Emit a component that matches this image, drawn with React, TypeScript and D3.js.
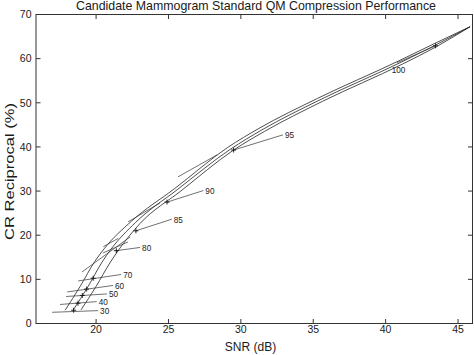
import React from 'react';
import * as d3 from 'd3';

const W = 474;
const H = 355;

const xTicks = [20, 25, 30, 35, 40, 45];
const yTicks = [0, 10, 20, 30, 40, 50, 60, 70];

// Three rate–distortion curves (SNR dB, CR reciprocal %)
const curveL: [number, number][] = [
  [17.86, 3.0], [18.9, 8.4], [19.9, 14.0], [20.55, 16.9], [22.45, 23.2], [25.4, 30.5],
  [29.1, 39.9], [31.25, 44.2], [35.3, 51.0], [40.85, 59.4], [43.3, 63.3], [45.83, 67.23],
];
const curveM: [number, number][] = [
  [18.41, 3.0], [19.45, 8.4], [20.41, 13.9], [21.0, 16.7], [22.73, 22.9], [25.6, 30.3],
  [29.32, 39.57], [31.46, 43.88], [35.47, 50.68], [40.99, 59.07], [43.4, 63.0], [45.83, 67.23],
];
const curveR: [number, number][] = [
  [18.96, 3.1], [20.0, 8.4], [20.95, 13.7], [21.5, 16.4], [23.05, 22.7], [25.85, 30.0],
  [29.5, 39.3], [31.65, 43.55], [35.65, 50.35], [41.15, 58.75], [43.5, 62.7], [45.83, 67.23],
];

// Quality levels and their marked points
const qualityLabels = ['30', '40', '50', '60', '70', '80', '85', '90', '95', '100'];
const markerSNR = [18.45, 18.75, 19.05, 19.35, 19.8, 21.4, 22.75, 24.9, 29.5, 43.45];
const markerCR = [3.0, 4.6, 6.35, 7.8, 10.25, 16.5, 21.0, 27.5, 39.3, 62.9];

// Leader / iso-quality lines: start point -> label anchor
const leaderFromSNR = [16.96, 17.51, 17.93, 18.0, 18.76, 21.4, 22.75, 24.9, 29.5, 43.45];
const leaderFromCR = [2.54, 4.31, 6.12, 7.14, 9.64, 16.5, 21.0, 27.5, 39.3, 62.9];
const labelSNR = [20.14, 20.05, 20.75, 21.17, 21.73, 23.04, 25.23, 27.41, 32.91, 40.79];
const labelCR = [2.92, 4.96, 6.7, 8.62, 11.11, 17.23, 23.63, 30.11, 42.74, 59.07];

// Extra short crossing segments protruding from the bundle
const segFromSNR = [19.03, 20.48, 20.5, 22.21, 25.66];
const segFromCR = [11.68, 15.99, 17.4, 23.02, 33.22];
const segToSNR = [22.35, 22.21, 21.54, 24.42, 28.36];
const segToCR = [19.61, 18.48, 19.3, 27.32, 38.21];

const FONT = "'Liberation Sans', Arial, Helvetica, sans-serif";
const INK = '#1a1a1a';

export default function App() {
  const x = d3.scaleLinear().domain([15.85, 46]).range([36, 472.5]);
  const y = d3.scaleLinear().domain([0, 70]).range([323.5, 14.5]);
  const line = d3
    .line<[number, number]>()
    .x((d) => x(d[0]))
    .y((d) => y(d[1]))
    .curve(d3.curveMonotoneX);

  const x0 = x.range()[0];
  const x1 = x.range()[1];
  const y0 = y.range()[0];
  const y1 = y.range()[1];
  const tick = 4.5;

  return (
    <svg
      width={W}
      height={H}
      viewBox={`0 0 ${W} ${H}`}
      style={{ position: 'absolute', left: 0, top: 0, background: '#fff' }}
      fontFamily={FONT}
    >
      <rect x={0} y={0} width={W} height={H} fill="#fff" />
      {/* title */}
      <text
        x={256}
        y={9.5}
        fontSize={12.4}
        textAnchor="middle"
        fill={INK}
        textLength={360}
        lengthAdjust="spacingAndGlyphs"
      >
        Candidate Mammogram Standard QM Compression Performance
      </text>

      {/* frame */}
      <rect x={x0} y={y1} width={x1 - x0} height={y0 - y1} fill="none" stroke="#333" strokeWidth={1} />

      {/* x ticks */}
      {xTicks.map((t) => (
        <g key={'xt' + t}>
          <line x1={x(t)} x2={x(t)} y1={y0} y2={y0 - tick} stroke="#333" strokeWidth={1} />
          <line x1={x(t)} x2={x(t)} y1={y1} y2={y1 + tick} stroke="#333" strokeWidth={1} />
          <text x={x(t)} y={333} fontSize={10.5} textAnchor="middle" fill={INK}>
            {t}
          </text>
        </g>
      ))}
      {/* y ticks */}
      {yTicks.map((t) => (
        <g key={'yt' + t}>
          <line x1={x0} x2={x0 + tick} y1={y(t)} y2={y(t)} stroke="#333" strokeWidth={1} />
          <line x1={x1} x2={x1 - tick} y1={y(t)} y2={y(t)} stroke="#333" strokeWidth={1} />
          <text x={31.5} y={y(t)} dy="0.36em" fontSize={10.5} textAnchor="end" fill={INK}>
            {t}
          </text>
        </g>
      ))}

      {/* axis titles */}
      <text x={250.5} y={351} fontSize={12} textAnchor="middle" fill={INK}>
        SNR (dB)
      </text>
      <text
        transform={`translate(14,171.5) rotate(-90)`}
        fontSize={12.5}
        textAnchor="middle"
        fill={INK}
        textLength={137}
        lengthAdjust="spacingAndGlyphs"
      >
        CR Reciprocal (%)
      </text>

      {/* curves */}
      {[curveL, curveM, curveR].map((c, i) => (
        <path key={'c' + i} d={line(c) || ''} fill="none" stroke="#222" strokeWidth={0.8} />
      ))}

      {/* extra crossing segments */}
      {segFromSNR.map((s, i) => (
        <line
          key={'s' + i}
          x1={x(s)}
          y1={y(segFromCR[i])}
          x2={x(segToSNR[i])}
          y2={y(segToCR[i])}
          stroke="#333"
          strokeWidth={0.7}
        />
      ))}

      {/* leader lines and labels */}
      {qualityLabels.map((q, i) => {
        const ax = x(labelSNR[i]);
        const ay = y(labelCR[i]);
        const leftward = labelSNR[i] < leaderFromSNR[i];
        return (
          <g key={'q' + q}>
            <line
              x1={x(leaderFromSNR[i])}
              y1={y(leaderFromCR[i])}
              x2={ax}
              y2={ay}
              stroke="#333"
              strokeWidth={0.7}
            />
            <text
              x={leftward ? ax + 1.5 : ax + 2}
              y={leftward ? ay + 10 : ay + 3.4}
              fontSize={8.2}
              textAnchor={leftward ? 'middle' : 'start'}
              fill={INK}
            >
              {q}
            </text>
          </g>
        );
      })}

      {/* + markers */}
      {markerSNR.map((s, i) => {
        const px = x(s);
        const py = y(markerCR[i]);
        return (
          <g key={'m' + i} stroke="#111" strokeWidth={0.9}>
            <line x1={px - 2.5} x2={px + 2.5} y1={py} y2={py} />
            <line x1={px} x2={px} y1={py - 2.5} y2={py + 2.5} />
          </g>
        );
      })}
    </svg>
  );
}
